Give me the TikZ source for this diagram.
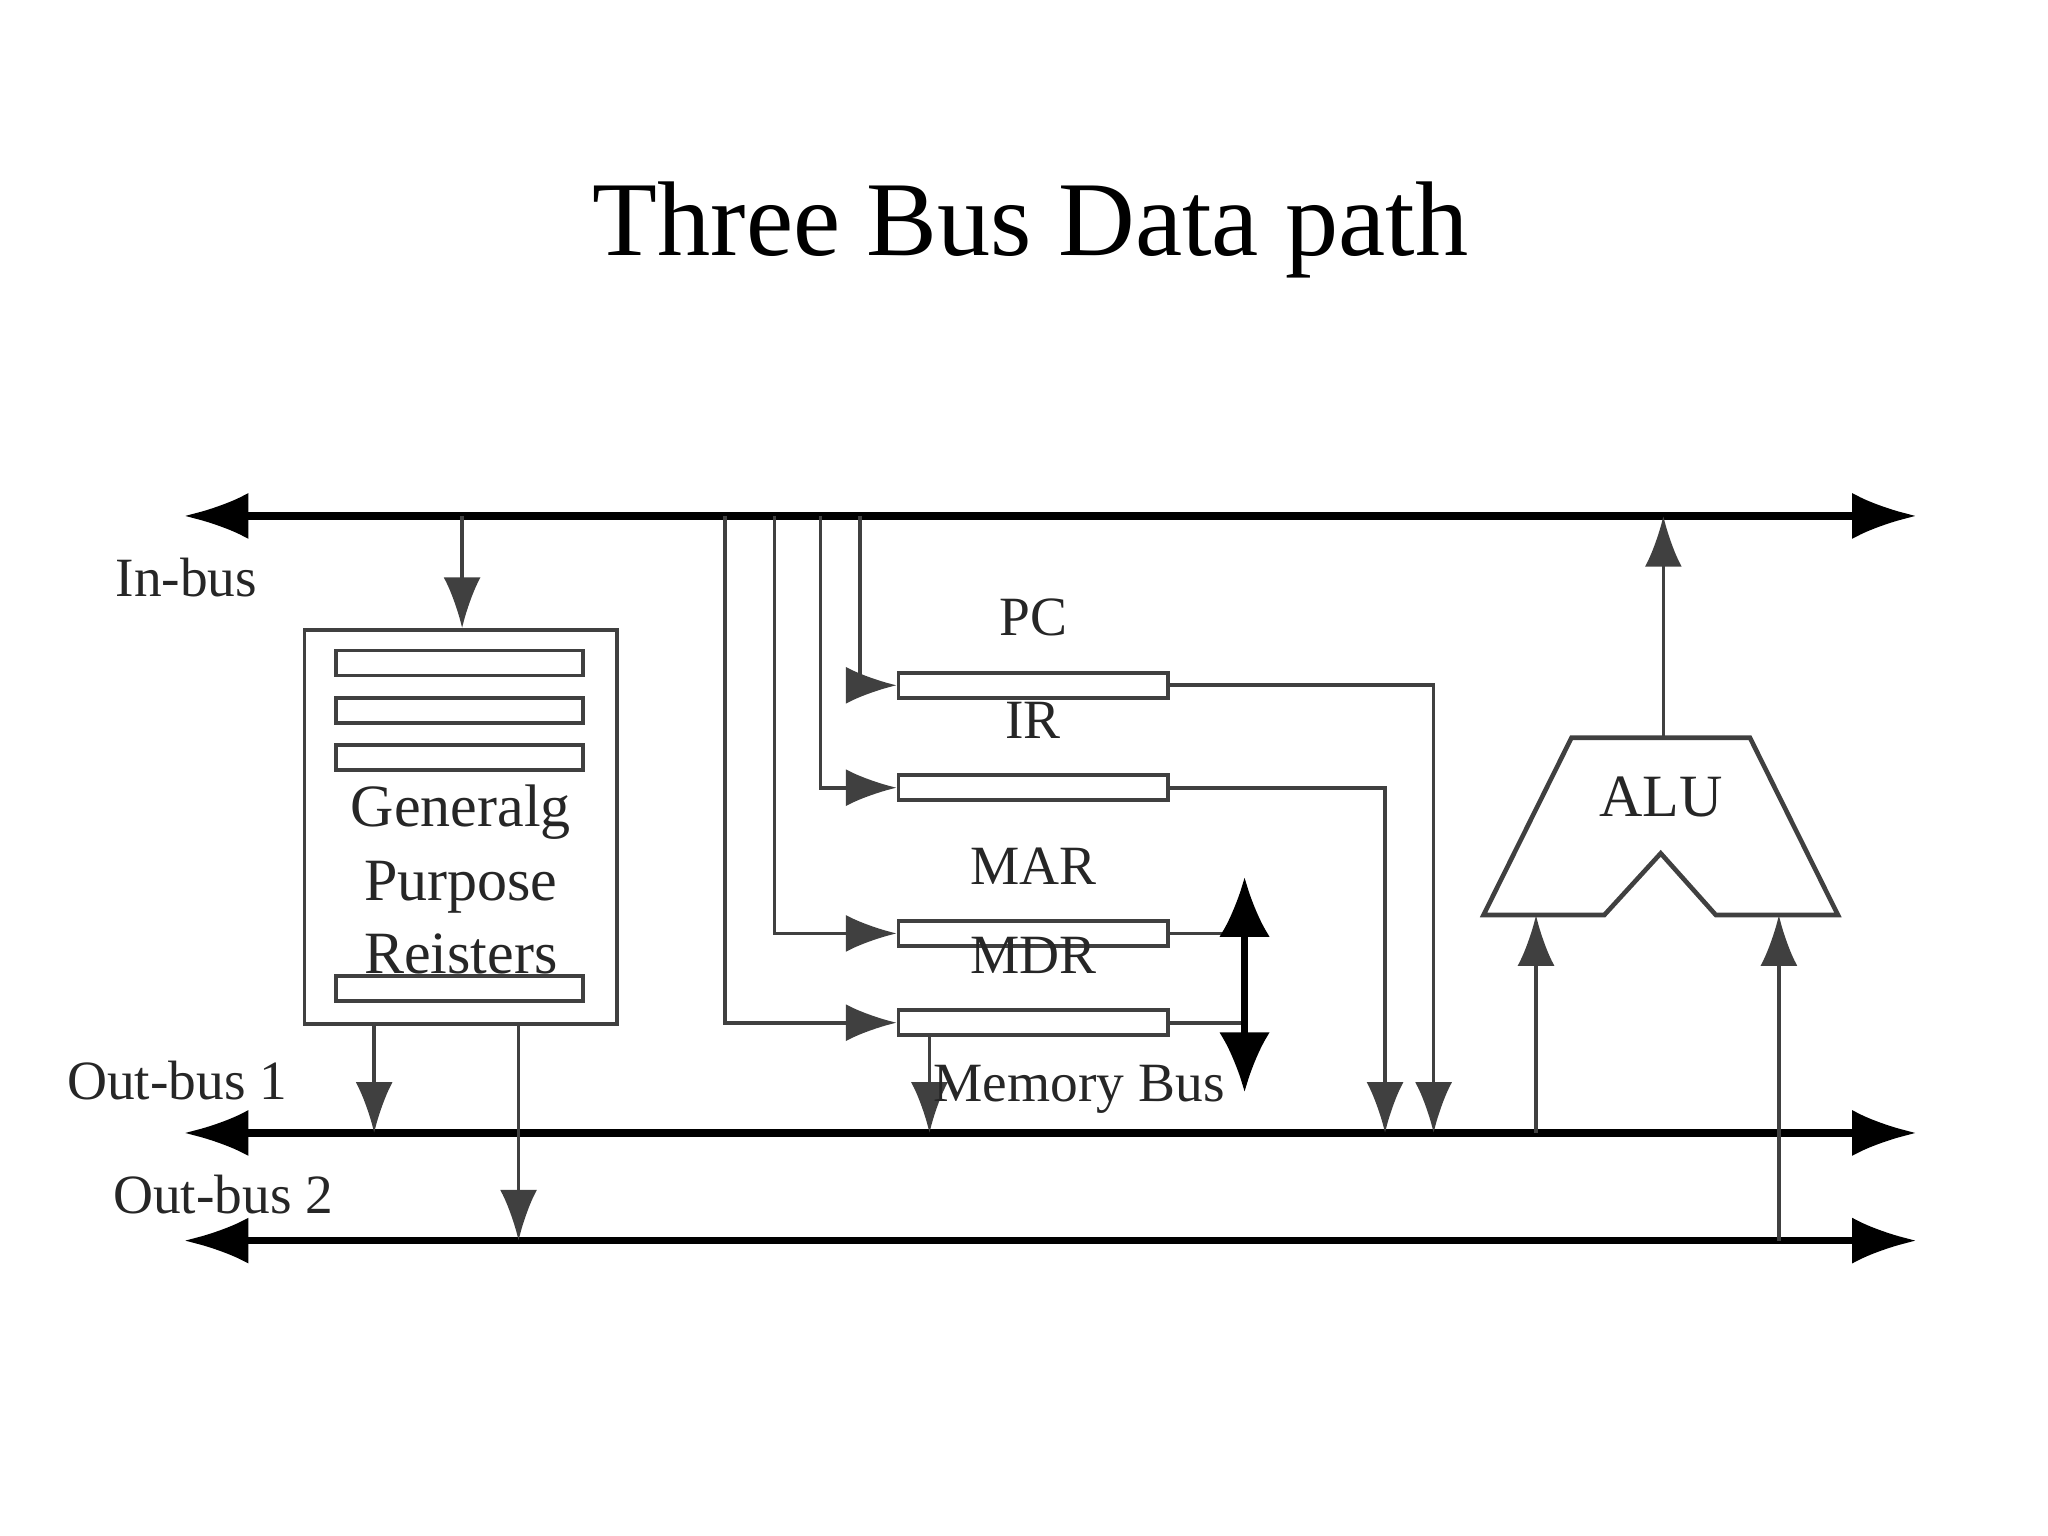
\documentclass[tikz,border=0pt]{standalone}
\usepackage{fontspec}
\setmainfont{Liberation Serif}
\usetikzlibrary{arrows.meta, positioning}
\tikzset{bus/.style={line width=1.6pt, {Latex[length=14pt,width=10pt]}-{Latex[length=14pt,width=10pt]}},
  wire/.style={line width=0.8pt, draw=black!75},
  tip/.style={-{Latex[length=11pt,width=8pt]}},
  reg/.style={draw=black!75, line width=0.8pt, minimum width=2.05cm, minimum height=0.19cm, inner sep=0pt},
  lbl/.style={font=\fontsize{12}{14}\selectfont, text=black!85}}
\begin{document}
\begin{tikzpicture}[x=0.01cm,y=-0.01cm]
\useasboundingbox (0,0) rectangle (1560,1170);
\node (title) at (785,175) {\fontsize{23}{28}\selectfont Three Bus Data path};
% buses
\coordinate (inL) at (140,393); \coordinate (inR) at (1460,393);
\coordinate (o1L) at (140,863); \coordinate (o1R) at (1460,863);
\coordinate (o2L) at (140,945); \coordinate (o2R) at (1460,945);
\draw[bus] (inL) -- (inR);
\draw[bus] (o1L) -- (o1R);
\draw[bus] (o2L) -- (o2R);
\node[lbl] (inlbl) at (142,440) {In-bus};
\node[lbl] (o1lbl) at (135,823) {Out-bus 1};
\node[lbl] (o2lbl) at (170,910) {Out-bus 2};
% general purpose registers
\node[draw=black!75, line width=0.8pt, minimum width=2.38cm, minimum height=3cm] (gpr) at (351,630) {};
\foreach \y/\n in {505/a, 541/b, 577/c, 753/d}
  \node[reg, minimum width=1.88cm] (g\n) at (350,\y) {};
\node[lbl, align=center, font=\fontsize{13}{16}\selectfont] (gprtxt) at (351,670) {Generalg\\Purpose\\Reisters};
\draw[wire, tip] (352,393) -- (gpr.north -| 352,0);
\draw[wire, tip] (gpr.south -| 285,0) -- (285,863);
\draw[wire, tip] (gpr.south -| 395,0) -- (395,945);
% registers
\node[reg] (pc) at (787,522) {};
\node[reg] (ir) at (787,600) {};
\node[reg] (mar) at (787,711) {};
\node[reg] (mdr) at (787,779) {};
\node[lbl, above=4pt of pc] {PC};
\node[lbl, above=4pt of ir] {IR};
\node[lbl, above=4pt of mar] {MAR};
\node[lbl, above=4pt of mdr] {MDR};
\draw[wire, tip] (655,393) |- (pc.west);
\draw[wire, tip] (625,393) |- (ir.west);
\draw[wire, tip] (590,393) |- (mar.west);
\draw[wire, tip] (552,393) |- (mdr.west);
\draw[wire, tip] (pc.east) -| (1092,863);
\draw[wire, tip] (ir.east) -| (1055,863);
\draw[wire] (mar.east) -- (945,711);
\draw[wire] (mdr.east) -- (945,779);
\draw[wire, tip] (mdr.south -| 708,0) -- (708,863);
\coordinate (mbT) at (948,668); \coordinate (mbB) at (948,832);
\draw[line width=1.4pt, {Latex[length=13pt,width=11pt]}-{Latex[length=13pt,width=11pt]}] (mbT) -- (mbB);
\node[lbl] (mblbl) at (822,830) {Memory Bus};
% ALU
\draw[wire, line width=1pt] (1130,697) -- (1197,562) -- (1333,562) -- (1400,697) -- (1307,697) -- (1265,650) -- (1222,697) -- cycle;
\node[lbl, font=\fontsize{13}{16}\selectfont] (alu) at (1265,607) {ALU};
\draw[wire, tip] (1267,562) -- (1267,393);
\draw[wire, tip] (1170,863) -- (1170,697);
\draw[wire, tip] (1355,945) -- (1355,697);
\end{tikzpicture}
\end{document}
